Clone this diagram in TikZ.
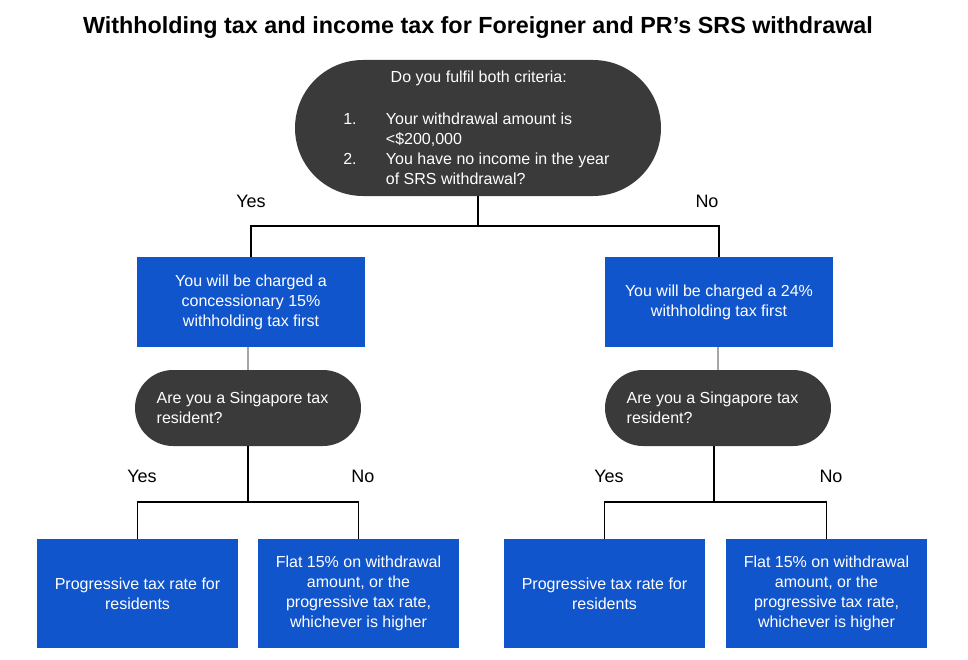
\documentclass[tikz,border=0pt]{standalone}
\usepackage{fontspec}
\setmainfont{Liberation Sans}
\begin{document}
\begin{tikzpicture}[x=0.75pt,y=-0.75pt,
  pill/.style={fill=pilldark,draw=none,rounded corners=#1,inner sep=0pt,text=white,font=\fontsize{12}{15}\selectfont},
  bbox/.style={fill=boxblue,draw=none,minimum width=171pt,minimum height=67.5pt,text=white,align=center,font=\fontsize{12}{15}\selectfont,inner sep=0pt},
  lbox/.style={fill=boxblue,draw=none,minimum width=150.75pt,minimum height=81.75pt,text=white,align=center,font=\fontsize{12}{15}\selectfont,inner sep=0pt},
  lbl/.style={font=\fontsize{13.5}{16}\selectfont},
  conn/.style={draw=black,line width=0.8pt},
  sconn/.style={draw=gray!70,line width=0.8pt}]
\definecolor{pilldark}{HTML}{3A3A3A}
\definecolor{boxblue}{HTML}{1155CC}
\useasboundingbox (0,0) rectangle (968,660);
\node[font=\bfseries\fontsize{17.5}{21}\selectfont] (title) at (478,28) {Withholding tax and income tax for Foreigner and PR’s SRS withdrawal};
% top pill
\node[pill=51pt,minimum width=274.5pt,minimum height=102pt] (top) at (478,128) {};
\node[text=white,font=\fontsize{12}{15}\selectfont,anchor=west] (t0) at (386,78) {Do you fulfil both criteria:};
\node[text=white,font=\fontsize{12}{15}\selectfont,anchor=north west,inner sep=0pt] (t1) at (343,110) {%
\begin{tabular}{@{}p{32pt}@{}l@{}}1.& Your withdrawal amount is\\ & <\$200,000\\ 2.& You have no income in the year\\ & of SRS withdrawal?\end{tabular}};
\node[lbl] (yes1) at (251,201) {Yes};
\node[lbl] (no1) at (707,201) {No};
\node[bbox] (b1) at (251,302) {You will be charged a\\concessionary 15\%\\withholding tax first};
\node[bbox] (b2) at (719,302) {You will be charged a 24\%\\withholding tax first};
\coordinate (j1) at (478,226);
\draw[conn] (top.south) -- (j1) -- (251,226) -- (b1.north);
\draw[conn] (j1) -- (719,226) -- (b2.north);
% second level pills
\node[pill=28.5pt,minimum width=169.5pt,minimum height=57pt] (p1) at (248,408) {};
\node[text=white,font=\fontsize{12}{15}\selectfont,align=left,anchor=west] (p1t) at (152,408) {Are you a Singapore tax\\resident?};
\node[pill=28.5pt,minimum width=169.5pt,minimum height=57pt] (p2) at (718,408) {};
\node[text=white,font=\fontsize{12}{15}\selectfont,align=left,anchor=west] (p2t) at (622,408) {Are you a Singapore tax\\resident?};
\draw[sconn] (248,347) -- (p1.north);
\draw[sconn] (718,347) -- (p2.north);
% labels
\node[lbl] (y2) at (142,476) {Yes};
\node[lbl] (n2) at (363,476) {No};
\node[lbl] (y3) at (609,476) {Yes};
\node[lbl] (n3) at (831,476) {No};
% bottom boxes
\node[lbox] (c1) at (137.5,593.5) {Progressive tax rate for\\residents};
\node[lbox] (c2) at (358.5,593.5) {Flat 15\% on withdrawal\\amount, or the\\progressive tax rate,\\whichever is higher};
\node[lbox] (c3) at (604.5,593.5) {Progressive tax rate for\\residents};
\node[lbox] (c4) at (826.5,593.5) {Flat 15\% on withdrawal\\amount, or the\\progressive tax rate,\\whichever is higher};
\coordinate (j2) at (248,502);
\coordinate (j3) at (714,502);
\draw[conn] (p1.south) -- (j2) -- (137.5,502) -- (c1.north);
\draw[conn] (j2) -- (358.5,502) -- (c2.north);
\draw[conn] (714,446) -- (j3) -- (604.5,502) -- (c3.north);
\draw[conn] (j3) -- (826.5,502) -- (c4.north);
\end{tikzpicture}
\end{document}
